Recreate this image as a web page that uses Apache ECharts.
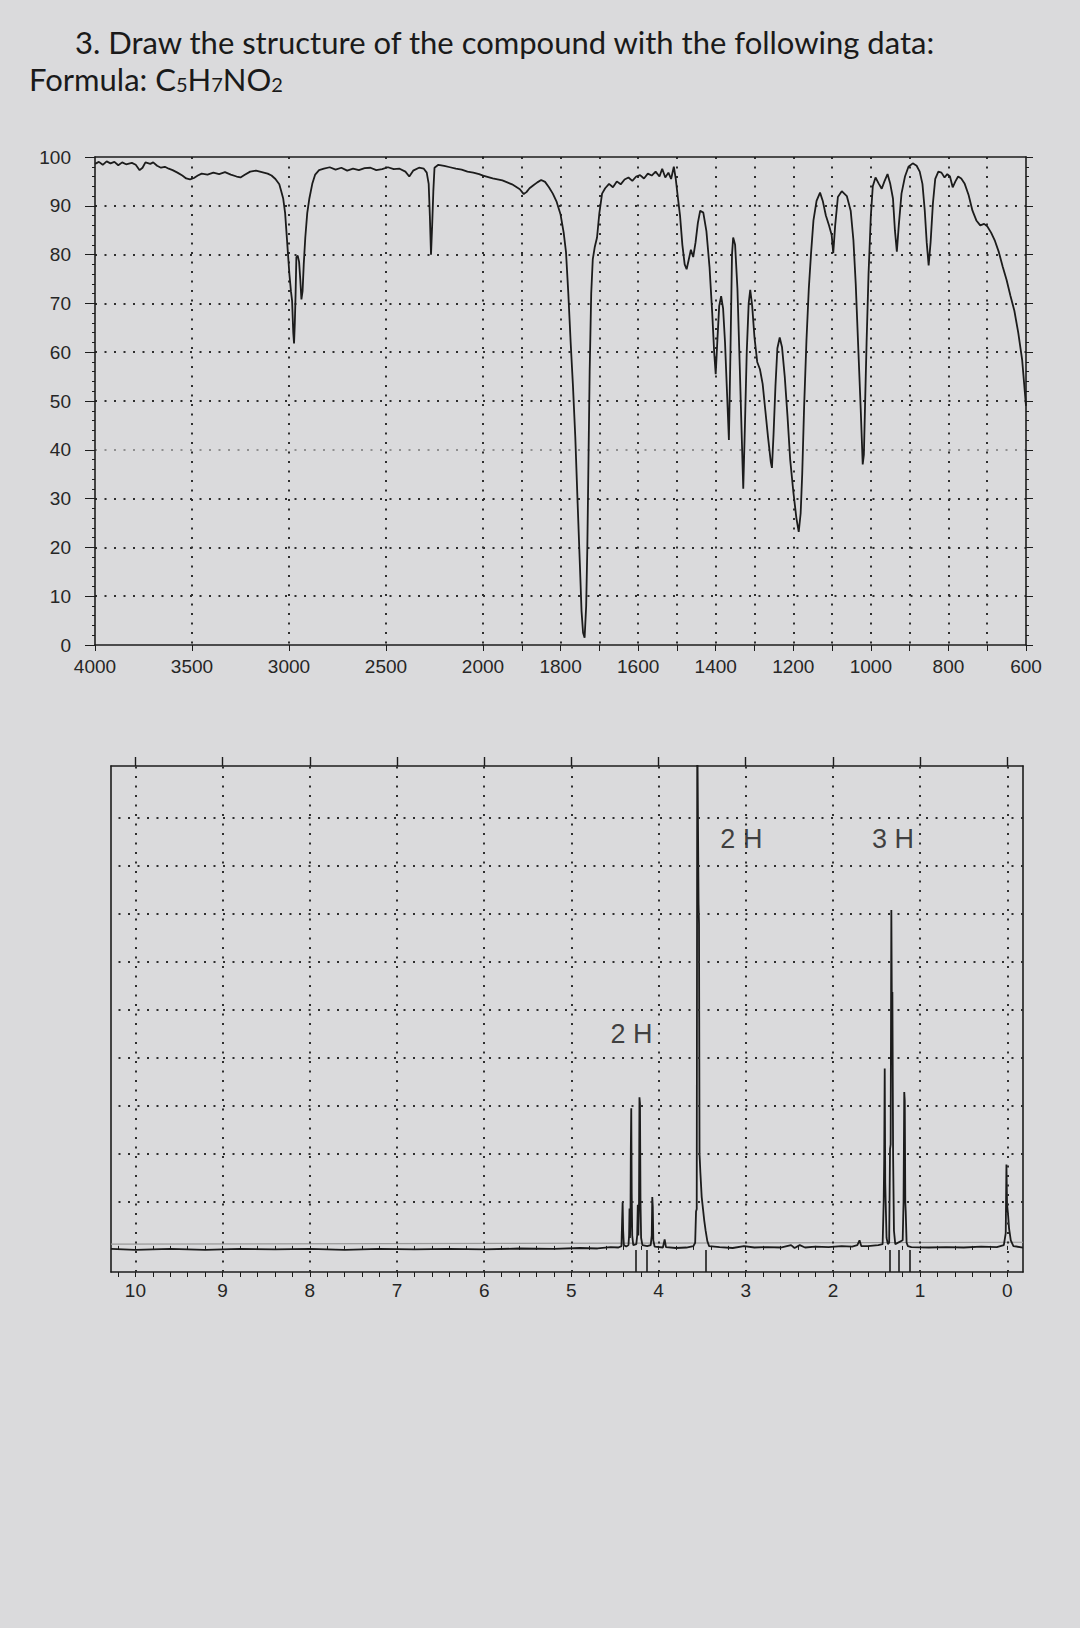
<!DOCTYPE html>
<html>
<head>
<meta charset="utf-8">
<title>C5H7NO2 - IR and 1H NMR</title>
<script src="https://cdn.jsdelivr.net/npm/echarts@6/dist/echarts.min.js"></script>
<style>
  html, body { margin: 0; padding: 0; background: #dadadc; }
  #chart { width: 1080px; height: 1628px; }
</style>
</head>
<body>
<div id="chart"></div>
<script>
// IR spectrum: [wavenumber cm-1, %T]
const irSpectrum = [
  [4000, 98.6], [3980, 99.0], [3960, 98.4], [3940, 99.1], [3920, 98.7], [3900, 99.0],
  [3880, 98.3], [3860, 98.9], [3840, 98.5], [3810, 98.8], [3790, 98.4], [3770, 97.3],
  [3755, 97.8], [3740, 98.9], [3715, 98.6], [3700, 98.9], [3680, 98.2], [3660, 97.8],
  [3640, 98.0], [3620, 97.6], [3600, 97.3], [3575, 96.8], [3550, 96.2], [3530, 95.6],
  [3510, 95.4], [3490, 95.7], [3470, 96.2], [3450, 96.6], [3420, 96.4], [3390, 96.8],
  [3360, 96.5], [3330, 96.9], [3300, 96.4], [3270, 96.0], [3250, 95.8], [3230, 96.3],
  [3200, 97.0], [3170, 97.2], [3140, 96.9], [3110, 96.6], [3090, 96.2], [3070, 95.5],
  [3050, 94.4], [3040, 93.0], [3030, 91.5], [3020, 88.5], [3012, 84.0], [3005, 80.0],
  [2998, 76.0], [2990, 72.5], [2984, 70.5], [2978, 64.0], [2974, 61.8], [2970, 66.0],
  [2966, 72.0], [2962, 79.5], [2955, 79.8], [2948, 78.5], [2942, 75.0], [2936, 70.8],
  [2930, 72.5], [2924, 78.0], [2916, 83.5], [2906, 88.5], [2895, 91.5], [2880, 94.5],
  [2865, 96.4], [2845, 97.3], [2820, 97.6], [2790, 97.9], [2760, 97.4], [2730, 97.8],
  [2700, 97.2], [2670, 97.6], [2640, 97.3], [2610, 97.7], [2580, 97.8], [2550, 97.3],
  [2520, 97.5], [2490, 97.9], [2460, 97.5], [2430, 97.6], [2400, 97.0], [2380, 96.0],
  [2360, 97.2], [2330, 97.8], [2305, 97.6], [2290, 96.8], [2280, 94.5], [2274, 88.0],
  [2268, 80.0], [2262, 86.0], [2256, 93.0], [2250, 97.8], [2230, 98.4], [2200, 98.2],
  [2170, 97.9], [2140, 97.6], [2110, 97.4], [2080, 97.0], [2050, 96.8], [2020, 96.5],
  [2000, 96.2], [1975, 95.6], [1950, 95.2], [1925, 94.4], [1905, 93.4], [1895, 92.4],
  [1888, 92.8], [1880, 93.6], [1870, 94.2], [1860, 94.8], [1850, 95.3], [1840, 94.9],
  [1830, 93.8], [1820, 92.5], [1810, 90.8], [1800, 88.2], [1792, 84.5], [1786, 80.5],
  [1780, 72.0], [1774, 62.0], [1768, 53.0], [1762, 42.5], [1756, 29.0], [1750, 16.0],
  [1746, 7.0], [1742, 2.5], [1738, 1.5], [1734, 8.0], [1731, 20.0], [1728, 38.0],
  [1725, 56.0], [1721, 72.0], [1717, 79.0], [1712, 81.5], [1706, 83.5], [1700, 88.5],
  [1693, 92.5], [1685, 93.6], [1675, 94.5], [1665, 93.8], [1655, 95.0], [1645, 94.4],
  [1635, 95.4], [1625, 95.8], [1615, 95.1], [1605, 96.0], [1595, 96.3], [1585, 95.6],
  [1575, 96.6], [1565, 96.2], [1555, 97.0], [1545, 96.0], [1538, 97.6], [1530, 95.8],
  [1522, 96.8], [1515, 95.5], [1508, 98.0], [1503, 95.5], [1498, 92.0], [1492, 88.0],
  [1486, 82.0], [1480, 78.0], [1475, 77.0], [1470, 78.8], [1464, 81.0], [1458, 79.5],
  [1452, 82.5], [1446, 86.5], [1440, 89.0], [1432, 88.6], [1424, 84.8], [1416, 77.5],
  [1409, 68.0], [1404, 60.0], [1400, 55.5], [1396, 62.0], [1391, 69.5], [1386, 71.5],
  [1381, 69.0], [1376, 62.0], [1371, 52.0], [1366, 42.0], [1362, 60.0], [1358, 80.0],
  [1355, 83.5], [1350, 82.0], [1344, 73.0], [1338, 57.0], [1333, 43.0], [1329, 32.0],
  [1325, 44.0], [1320, 60.0], [1315, 70.0], [1311, 72.8], [1306, 69.5], [1300, 63.0],
  [1293, 58.0], [1286, 56.5], [1279, 53.5], [1272, 48.0], [1265, 42.5], [1258, 37.5],
  [1255, 36.3], [1251, 43.0], [1246, 53.0], [1241, 60.8], [1235, 63.0], [1229, 61.0],
  [1222, 55.0], [1215, 47.0], [1208, 38.0], [1200, 31.5], [1192, 26.0], [1186, 23.2],
  [1181, 27.0], [1177, 35.0], [1172, 49.0], [1166, 62.5], [1160, 73.0], [1154, 80.5],
  [1148, 87.0], [1140, 91.0], [1131, 92.7], [1124, 91.0], [1116, 88.0], [1108, 86.0],
  [1101, 84.0], [1097, 80.3], [1092, 86.0], [1085, 91.8], [1075, 93.0], [1062, 92.0],
  [1052, 89.0], [1045, 83.0], [1039, 74.0], [1032, 60.0], [1026, 48.0], [1021, 37.0],
  [1018, 39.0], [1015, 49.0], [1011, 62.0], [1006, 76.0], [1000, 88.0], [995, 94.0],
  [988, 95.8], [980, 94.6], [972, 93.5], [965, 95.0], [957, 96.5], [950, 94.5],
  [943, 91.5], [938, 85.0], [933, 80.6], [928, 86.0], [921, 92.5], [912, 96.0],
  [903, 98.0], [892, 98.7], [882, 98.2], [874, 97.0], [867, 94.5], [861, 89.0],
  [856, 82.5], [851, 77.8], [846, 82.5], [840, 90.5], [834, 95.5], [826, 97.0],
  [818, 96.8], [810, 95.8], [803, 96.5], [796, 96.0], [789, 93.8], [782, 95.0],
  [775, 96.0], [767, 95.6], [758, 94.5], [748, 92.2], [738, 89.0], [728, 87.0],
  [718, 86.0], [708, 86.3], [700, 85.8], [690, 84.5], [680, 82.8], [670, 80.5],
  [660, 77.5], [650, 74.8], [640, 71.5], [630, 68.5], [620, 64.0], [610, 58.5],
  [600, 49.0]
];
const irLabelsHigh = [4000, 3500, 3000, 2500, 2000];
const irLabelsLow = [1800, 1600, 1400, 1200, 1000, 800, 600];

// 1H NMR spectrum: [ppm, intensity in grid units]
const nmrSpectrum = [
  [10.28, 0.02], [10.0, 0.0], [9.6, 0.02], [9.2, 0.0], [8.8, 0.02], [8.4, 0.01],
  [8.0, 0.02], [7.6, 0.0], [7.2, 0.02], [6.8, 0.01], [6.4, 0.02], [6.0, 0.01],
  [5.6, 0.03], [5.2, 0.02], [4.9, 0.04], [4.7, 0.03], [4.55, 0.06], [4.46, 0.05],
  [4.425, 0.08], [4.418, 0.6], [4.412, 1.0], [4.406, 0.4], [4.398, 0.1], [4.37, 0.07],
  [4.345, 0.1], [4.338, 0.3], [4.333, 0.86], [4.328, 0.25], [4.322, 0.6], [4.318, 2.1],
  [4.313, 2.95], [4.308, 1.2], [4.302, 0.3], [4.29, 0.1], [4.255, 0.12], [4.245, 0.3],
  [4.238, 0.94], [4.232, 0.3], [4.224, 1.0], [4.219, 3.18], [4.213, 3.05], [4.207, 1.0],
  [4.2, 0.25], [4.185, 0.1], [4.13, 0.08], [4.09, 0.1], [4.078, 0.3], [4.072, 1.1],
  [4.066, 0.9], [4.06, 0.2], [4.045, 0.07], [3.95, 0.05], [3.93, 0.22], [3.915, 0.06],
  [3.8, 0.04], [3.68, 0.05], [3.6, 0.08], [3.58, 0.15], [3.57, 0.8], [3.562, 0.85],
  [3.556, 11], [3.548, 11], [3.541, 7.2], [3.536, 6.8], [3.53, 2.0], [3.52, 1.6],
  [3.505, 1.1], [3.49, 0.85], [3.475, 0.6], [3.46, 0.4], [3.44, 0.18], [3.42, 0.08],
  [3.3, 0.06], [3.15, 0.04], [3.02, 0.08], [2.9, 0.05], [2.75, 0.06], [2.6, 0.05],
  [2.48, 0.1], [2.44, 0.04], [2.38, 0.1], [2.32, 0.05], [2.2, 0.07], [2.05, 0.06],
  [1.9, 0.08], [1.78, 0.07], [1.72, 0.1], [1.695, 0.2], [1.675, 0.08], [1.6, 0.08],
  [1.48, 0.1], [1.43, 0.12], [1.418, 1.0], [1.412, 1.87], [1.406, 3.78], [1.4, 1.4],
  [1.395, 1.0], [1.385, 0.25], [1.37, 0.12], [1.355, 0.15], [1.345, 2.1], [1.338, 2.2],
  [1.33, 7.08], [1.324, 5.0], [1.318, 5.37], [1.31, 2.0], [1.3, 0.4], [1.285, 0.12],
  [1.2, 0.2], [1.19, 1.0], [1.182, 3.29], [1.176, 3.1], [1.17, 1.0], [1.165, 0.8],
  [1.155, 0.15], [1.14, 0.08], [1.1, 0.06], [0.9, 0.05], [0.7, 0.06], [0.5, 0.05],
  [0.3, 0.07], [0.12, 0.06], [0.04, 0.1], [0.018, 0.35], [0.01, 1.78], [0.003, 0.95],
  [-0.008, 0.75], [-0.02, 0.45], [-0.04, 0.2], [-0.07, 0.08], [-0.18, 0.05]
];
// faint integral trace just above the baseline
const nmrIntegralTrace = [[10.28, 0.12], [-0.18, 0.16]];
const nmrLabels = [10, 9, 8, 7, 6, 5, 4, 3, 2, 1, 0];
const nmrGridLevels = [1, 2, 3, 4, 5, 6, 7, 8, 9];
const integralText = ['2 H', '2 H', '3 H'];
const integralMarks = [4.26, 4.14, 3.46, 1.35, 1.24, 1.12];

const nmrMinorTicks = [];
for (let i = 0; i <= 51; i++) nmrMinorTicks.push(+(i * 0.2).toFixed(1));

const ink = '#1c1c1c';
const dots = { color: '#2e2e2e', width: 2, type: [2, 7.5], cap: 'butt' };
// the 40 % line is printed fainter on the original sheet
const irDots = Object.assign({}, dots, {
  color: ['#2e2e2e', '#2e2e2e', '#2e2e2e', '#8f8f8f', '#2e2e2e', '#2e2e2e', '#2e2e2e', '#2e2e2e', '#2e2e2e']
});
const tickFont = { fontFamily: 'Liberation Sans', fontSize: 19, color: '#262626' };
const frame = { show: true, onZero: false, lineStyle: { color: ink, width: 1.6 } };
const off = { show: false };
const titleFont = { fontFamily: 'Lato', fontSize: 31, fontWeight: 'normal', color: '#1a1a1a', lineHeight: 30 };

const chart = echarts.init(document.getElementById('chart'), null, { renderer: 'svg' });

chart.setOption({
  animation: false,
  backgroundColor: '#dadadc',
  title: [{
    text: '3. Draw the structure of the compound with the following data:',
    left: 75, top: 27, padding: 0,
    textStyle: titleFont
  }, {
    text: 'Formula: C{sub|5}H{sub|7}NO{sub|2}',
    left: 29, top: 64, padding: 0,
    textStyle: Object.assign({}, titleFont, {
      rich: { sub: { fontFamily: 'Lato', fontSize: 20, color: '#1a1a1a', lineHeight: 12, verticalAlign: 'bottom' } }
    })
  }],
  grid: [
    { left: 95, top: 157, width: 388, height: 488 },
    { left: 483, top: 157, width: 543, height: 488 },
    { left: 111, top: 766, width: 912, height: 506 }
  ],
  xAxis: [
    { // IR 4000-2000, bottom
      gridIndex: 0, type: 'value', position: 'bottom', inverse: true, min: 2000, max: 4000, interval: 500,
      axisLine: frame, axisTick: { length: 6, lineStyle: { color: ink } },
      axisLabel: Object.assign({ customValues: irLabelsHigh, margin: 12, formatter: v => String(v) }, tickFont),
      splitLine: { show: true, showMinLine: true, showMaxLine: false, lineStyle: dots }
    },
    { gridIndex: 0, type: 'value', position: 'top', inverse: true, min: 2000, max: 4000,
      axisLine: frame, axisTick: off, axisLabel: off, splitLine: off },
    { // IR 2000-600, bottom
      gridIndex: 1, type: 'value', position: 'bottom', inverse: true, min: 600, max: 2000, interval: 100,
      axisLine: frame, axisTick: { length: 6, lineStyle: { color: ink } },
      axisLabel: Object.assign({ customValues: irLabelsLow, margin: 12, formatter: v => String(v) }, tickFont),
      splitLine: { show: true, showMinLine: false, showMaxLine: false, lineStyle: dots }
    },
    { gridIndex: 1, type: 'value', position: 'top', inverse: true, min: 600, max: 2000,
      axisLine: frame, axisTick: off, axisLabel: off, splitLine: off },
    { // NMR ppm, bottom
      gridIndex: 2, type: 'value', position: 'bottom', inverse: true, min: -0.18, max: 10.28,
      axisLine: frame,
      axisTick: { customValues: nmrMinorTicks, length: 5, lineStyle: { color: ink } },
      axisLabel: Object.assign({ customValues: nmrLabels, margin: 9 }, tickFont),
      splitLine: off
    },
    { // NMR top, integer ticks
      gridIndex: 2, type: 'value', position: 'top', inverse: true, min: -0.18, max: 10.28,
      axisLine: frame,
      axisTick: { customValues: nmrLabels, length: 9, lineStyle: { color: ink, width: 1.4 } },
      axisLabel: off, splitLine: off
    },
    { // NMR top, 0.2 ppm ticks
      gridIndex: 2, type: 'value', position: 'top', inverse: true, min: -0.18, max: 10.28,
      axisLine: off,
      axisTick: { customValues: nmrMinorTicks, length: 4, lineStyle: { color: ink } },
      axisLabel: off, splitLine: off
    }
  ],
  yAxis: [
    {
      gridIndex: 0, type: 'value', position: 'left', min: 0, max: 100, interval: 10,
      axisLine: frame, axisTick: { length: 10, lineStyle: { color: ink } },
      minorTick: { show: true, splitNumber: 5, length: 3, lineStyle: { color: ink } },
      axisLabel: Object.assign({ margin: 24 }, tickFont),
      splitLine: { show: true, showMinLine: false, showMaxLine: false, lineStyle: irDots }
    },
    {
      gridIndex: 1, type: 'value', position: 'right', min: 0, max: 100, interval: 10,
      axisLine: frame, axisTick: { length: 7, lineStyle: { color: ink } },
      minorTick: { show: true, splitNumber: 5, length: 3, lineStyle: { color: ink } },
      axisLabel: off,
      splitLine: { show: true, showMinLine: false, showMaxLine: false, lineStyle: irDots }
    },
    { gridIndex: 2, type: 'value', position: 'left', min: -0.46, max: 10.08,
      axisLine: frame, axisTick: off, axisLabel: off, splitLine: off },
    { gridIndex: 2, type: 'value', position: 'right', min: -0.46, max: 10.08,
      axisLine: frame, axisTick: off, axisLabel: off, splitLine: off }
  ],
  series: [
    {
      name: 'IR 4000-2000', type: 'line', xAxisIndex: 0, yAxisIndex: 0,
      data: irSpectrum.filter(d => d[0] >= 2000),
      showSymbol: false, silent: true, lineStyle: { color: ink, width: 1.8 }
    },
    {
      name: 'IR 2000-600', type: 'line', xAxisIndex: 2, yAxisIndex: 1,
      data: irSpectrum.filter(d => d[0] <= 2000),
      showSymbol: false, silent: true, lineStyle: { color: ink, width: 1.8 }
    },
    {
      name: 'integral trace', type: 'line', xAxisIndex: 4, yAxisIndex: 2,
      data: nmrIntegralTrace, showSymbol: false, silent: true,
      lineStyle: { color: '#9a9a9a', width: 1.2 }
    },
    {
      name: '1H NMR', type: 'line', xAxisIndex: 4, yAxisIndex: 2, clip: true,
      data: nmrSpectrum, showSymbol: false, silent: true,
      lineStyle: { color: ink, width: 1.8 },
      markLine: {
        silent: true, symbol: ['none', 'none'], label: off, animation: false,
        lineStyle: dots,
        data: nmrGridLevels.map(v => ({ yAxis: v })).concat(nmrLabels.map(v => ({ xAxis: v })))
      }
    },
    {
      name: 'integration', type: 'scatter', xAxisIndex: 4, yAxisIndex: 2, symbolSize: 0, silent: true,
      data: integralText.map((t, i) => ({ name: t, value: [[4.31, 4.5], [3.05, 8.55], [1.31, 8.55]][i] })),
      label: { show: true, position: 'inside', formatter: p => p.name,
        fontFamily: 'Liberation Sans', fontSize: 27, color: '#151515' },
      markLine: {
        silent: true, symbol: ['none', 'none'], label: off, animation: false,
        lineStyle: { color: ink, width: 1.6, type: 'solid' },
        data: integralMarks.map(v => [{ coord: [v, 0] }, { coord: [v, -0.46] }])
      }
    }
  ]
});
</script>
</body>
</html>
